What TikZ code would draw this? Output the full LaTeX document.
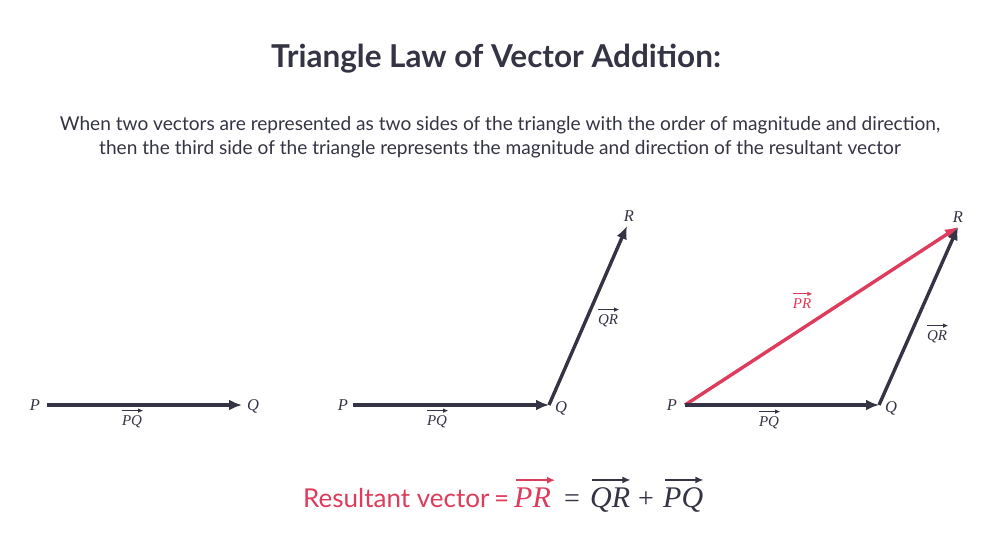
\documentclass[tikz,border=0pt]{standalone}
\usepackage{fontspec}
\setmainfont{Lato}
\newfontfamily\labelfont{Liberation Serif}
\usetikzlibrary{
  arrows.meta,
  positioning,
}
\definecolor{vec_dark}{RGB}{52,52,68}
\definecolor{vec_red}{RGB}{222,60,92}
\tikzset{
  >={Latex[width=11pt,length=13pt]},
  vec/.style={line width=3.4pt, ->, draw=vec_dark},
  resvec/.style={vec, draw=vec_red},
  ptlabel/.style={font=\fontsize{16.5}{16.5}\labelfont\itshape, text=vec_dark, inner sep=0pt},
  veclabel/.style={font=\fontsize{15}{15}\labelfont\itshape, text=vec_dark, inner sep=0pt},
  labelarrow/.style={line width=0.8pt, draw=vec_dark, -{Latex[width=4.5pt,length=5pt]}},
  sumpart/.style={font=\fontsize{30}{30}\labelfont\itshape, text=vec_dark, anchor=base west, inner sep=0pt},
  sumarrow/.style={line width=1.4pt, draw=vec_dark, -{Latex[width=7pt,length=8pt]}},
}

\begin{document}
\begin{tikzpicture}[x=1pt, y=-1pt]
    \fill[white] (0,0) rectangle (992,558);
    \useasboundingbox (0,0) rectangle (992,558);

    % heading and explanation
    \node[font=\fontsize{31.5}{33}\selectfont\bfseries, text=vec_dark] (title) at (496,59)
      {Triangle Law of Vector Addition:};
    \node[font=\fontsize{19.1}{24}\selectfont, text=vec_dark, align=center] (intro) at (500,137)
      {When two vectors are represented as two sides of the triangle with the order of magnitude and direction,\\
       then the third side of the triangle represents the magnitude and direction of the resultant vector};

    % first panel: PQ alone
    \coordinate (p1) at (47,405);
    \coordinate (q1) at (242,405);
    \draw[vec] (p1) -- (q1);
    \node[ptlabel] (p1lab) at (35,405) {P};
    \node[ptlabel] (q1lab) at (253,406) {Q};
    \node[veclabel] (pq1lab) at (132,422) {PQ};

    % second panel: PQ then QR
    \coordinate (p2) at (353,405);
    \coordinate (q2) at (549,405);
    \coordinate (r2) at (627,226);
    \draw[vec] (p2) -- (q2);
    \draw[vec] (q2) -- (r2);
    \node[ptlabel] (p2lab) at (343,405) {P};
    \node[ptlabel] (q2lab) at (561,408) {Q};
    \node[ptlabel] (r2lab) at (629,216) {R};
    \node[veclabel] (pq2lab) at (437,422) {PQ};
    \node[veclabel] (qr2lab) at (608,321) {QR};

    % third panel: the closed triangle
    \coordinate (p3) at (685,405);
    \coordinate (q3) at (879,405);
    \coordinate (r3) at (958,227);
    \draw[resvec] (p3) -- (r3);
    \draw[vec] (p3) -- (q3);
    \draw[vec] (q3) -- (r3);
    \node[ptlabel] (p3lab) at (672,405) {P};
    \node[ptlabel] (q3lab) at (891,408) {Q};
    \node[ptlabel] (r3lab) at (958,217) {R};
    \node[veclabel] (pq3lab) at (769,423) {PQ};
    \node[veclabel] (qr3lab) at (937,337) {QR};
    \node[veclabel, text=vec_red] (pr3lab) at (802,304) {PR};

    % small arrows over the vector names
    \foreach \lab in {pq1lab, pq2lab, qr2lab, pq3lab, qr3lab} {
      \draw[labelarrow] ([yshift=5pt]\lab.north west) -- ([yshift=5pt,xshift=1pt]\lab.north east);
    }
    \draw[labelarrow, draw=vec_red] ([yshift=5pt]pr3lab.north west) -- ([yshift=5pt,xshift=1pt]pr3lab.north east);

    % the sum written out
    \node[font=\fontsize{26}{26}\selectfont, text=vec_red, anchor=base west, inner sep=0pt] (restext) at (303,507)
      {Resultant vector};
    \node[font=\fontsize{26}{26}\selectfont, text=vec_red, anchor=base west, inner sep=0pt] (reseq) at (494,507) {=};
    \node[sumpart, text=vec_red] (prsum) at (514,507) {PR};
    \node[sumpart, font=\fontsize{28}{28}\labelfont] (eqsum) at (564,507) {=};
    \node[sumpart] (qrsum) at (590,507) {QR};
    \node[sumpart, font=\fontsize{28}{28}\labelfont] (plussum) at (638,507) {+};
    \node[sumpart] (pqsum) at (663,507) {PQ};
    \foreach \lab in {qrsum, pqsum} {
      \draw[sumarrow] ([yshift=7pt,xshift=2pt]\lab.north west) -- ([yshift=7pt]\lab.north east);
    }
    \draw[sumarrow, draw=vec_red] ([yshift=7pt,xshift=2pt]prsum.north west) -- ([yshift=7pt,xshift=4pt]prsum.north east);
\end{tikzpicture}
\end{document}
